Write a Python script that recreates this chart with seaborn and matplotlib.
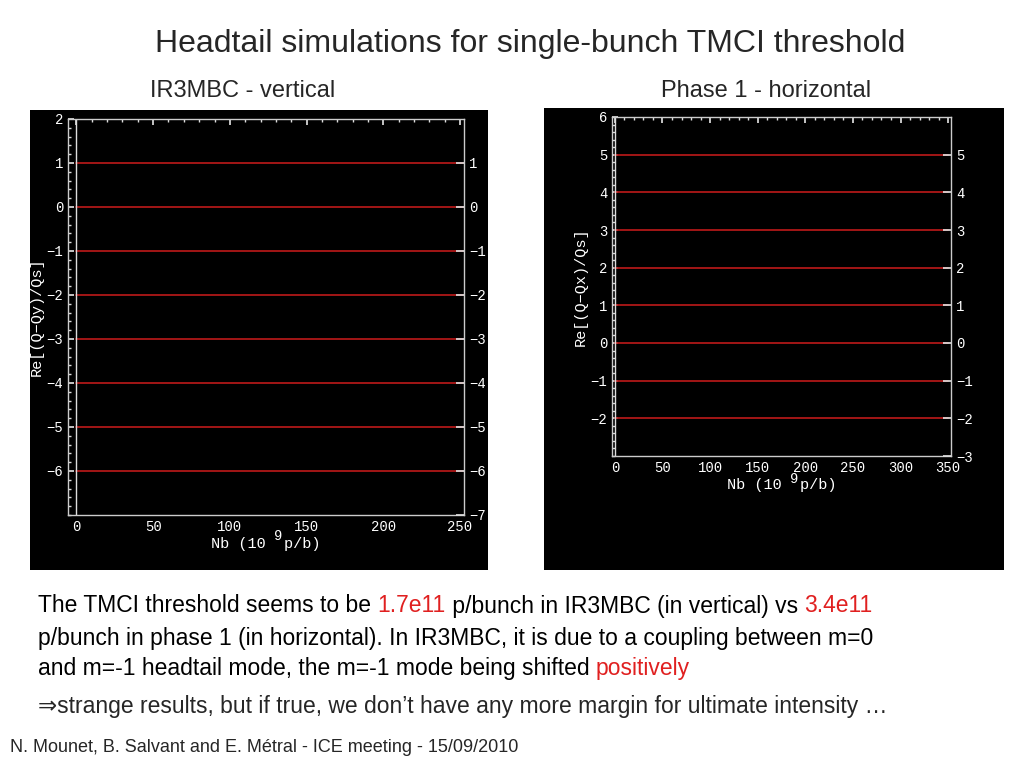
import numpy as np
import pandas as pd
import matplotlib
matplotlib.use("Agg")
import matplotlib.pyplot as plt
import seaborn as sns

sns.set_theme(style="white")
plt.rcParams['font.family'] = ['Liberation Sans', 'DejaVu Sans']

# mode tune shifts (flat lines, no visible coupling over the intensity range)
left_modes = [1, 0, -1, -2, -3, -4, -5, -6]
left_nb = [0, 252]
right_modes = [5, 4, 3, 2, 1, 0, -1, -2]
right_nb = [0, 350]

left_yticks = [2, 1, 0, -1, -2, -3, -4, -5, -6]
left_yticks_r = [1, 0, -1, -2, -3, -4, -5, -6, -7]
right_yticks = [6, 5, 4, 3, 2, 1, 0, -1, -2]
right_yticks_r = [5, 4, 3, 2, 1, 0, -1, -2, -3]

fig = plt.figure(figsize=(10.24, 7.68), dpi=100)
W, H = 1024, 768

def px(x0, y0, x1, y1):
    return [x0 / W, 1 - y1 / H, (x1 - x0) / W, (y1 - y0) / H]

mono = 'Liberation Mono'
red = '#b01818'

def panel(box, frame, modes, nb, xlim, ylim, xticks, yl, yr, ylabel):
    bg = fig.add_axes(px(*box))
    bg.set_facecolor('black')
    bg.set_xticks([]); bg.set_yticks([])
    for s in bg.spines.values():
        s.set_visible(False)
    ax = fig.add_axes(px(*frame))
    ax.set_facecolor('black')
    df = pd.DataFrame([(x, m) for m in modes for x in nb], columns=['nb', 'mode_y'])
    df['mode'] = df['mode_y'].astype(str)
    sns.lineplot(data=df, x='nb', y='mode_y', units='mode', estimator=None,
                 color=red, lw=1.3, ax=ax, legend=False)
    ax.axvline(0, color='#dddddd', lw=1)
    ax.set_xlim(*xlim); ax.set_ylim(*ylim)
    ax.set_xticks(xticks)
    ax.set_yticks(yl)
    ax.set_yticklabels([str(v).replace('-', '\u2212') for v in yl])
    ax.minorticks_on()
    ax.tick_params(which='both', direction='in', colors='#dddddd', labelcolor='white',
                   top=True, right=False, labelsize=10)
    ax.tick_params(which='major', length=4)
    ax.tick_params(which='minor', length=2)
    for lab in ax.get_xticklabels() + ax.get_yticklabels():
        lab.set_fontfamily(mono)
    for s in ax.spines.values():
        s.set_color('#cccccc'); s.set_linewidth(1)
    ax2 = ax.twinx()
    ax2.set_ylim(*ylim)
    ax2.set_yticks(yr)
    ax2.set_yticklabels([str(v).replace('-', '\u2212') for v in yr])
    ax2.tick_params(direction='in', colors='#dddddd', labelcolor='white', labelsize=10)
    for lab in ax2.get_yticklabels():
        lab.set_fontfamily(mono)
    for s in ax2.spines.values():
        s.set_visible(False)
    ax.set_xlabel('Nb (10  p/b)', color='white', fontfamily=mono, fontsize=11, labelpad=2)
    ax.set_ylabel(ylabel, color='white', fontfamily=mono, fontsize=11, labelpad=2)
    return ax

axl = panel((30, 110, 488, 570), (68, 119, 464, 515), left_modes, left_nb,
            (-5.5, 252.6), (-7, 2), [0, 50, 100, 150, 200, 250], left_yticks, left_yticks_r,
            'Re[(Q\u2212Qy)/Qs]')
axr = panel((544, 108, 1004, 570), (612, 117, 951, 456), right_modes, right_nb,
            (-3, 353), (-3, 6), [0, 50, 100, 150, 200, 250, 300, 350], right_yticks, right_yticks_r,
            'Re[(Q\u2212Qx)/Qs]')
fig.text(278 / W, 1 - 540 / H, '9', color='white', fontfamily=mono, fontsize=10, ha='center')
fig.text(794 / W, 1 - 483 / H, '9', color='white', fontfamily=mono, fontsize=10, ha='center')

fig.text(530 / W, 1 - 44 / H, 'Headtail simulations for single-bunch TMCI threshold',
         ha='center', va='center', fontsize=23)
fig.text(243 / W, 1 - 91 / H, 'IR3MBC - vertical', ha='center', va='center', fontsize=17)
fig.text(766 / W, 1 - 91 / H, 'Phase 1 - horizontal', ha='center', va='center', fontsize=17)

fs = 16.5
def line(y, parts, x=38):
    xx = x / W
    for txt, col in parts:
        t = fig.text(xx, 1 - y / H, txt, color=col, fontsize=fs, va='center')
        fig.canvas.draw()
        bb = t.get_window_extent()
        xx += bb.width / W

line(606, [('The TMCI threshold seems to be ', 'black'), ('1.7e11', '#e02020'),
           (' p/bunch in IR3MBC (in vertical) vs ', 'black'), ('3.4e11', '#e02020')])
line(638, [('p/bunch in phase 1 (in horizontal). In IR3MBC, it is due to a coupling between m=0', 'black')])
line(669, [('and m=-1 headtail mode, the m=-1 mode being shifted ', 'black'), ('positively', '#e02020')])
fig.text(38 / W, 1 - 706 / H, '\u21d2strange results, but if true, we don\u2019t have any more margin for ultimate intensity \u2026',
         fontsize=fs, va='center', family=['Liberation Sans', 'DejaVu Sans'])
fig.text(10 / W, 1 - 748 / H, 'N. Mounet, B. Salvant and E. M\u00e9tral - ICE meeting - 15/09/2010',
         fontsize=13, va='center')

fig.savefig('out.png', dpi=100)
